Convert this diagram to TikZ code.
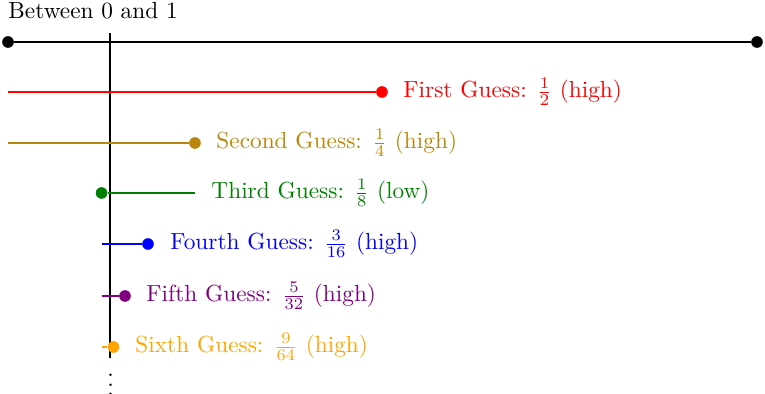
\documentclass[tikz,border=0pt]{standalone}
\definecolor{guessgold}{RGB}{184,134,11}
\definecolor{guessgreen}{RGB}{0,128,0}
\definecolor{guesspurple}{RGB}{128,0,128}
\definecolor{guessorange}{RGB}{255,165,0}
\tikzset{
  dotmark/.style={circle, fill, inner sep=0pt, minimum size=5pt},
  guess/.style={anchor=west, inner sep=0pt},
  seg/.style={line width=0.9pt}
}
\begin{document}
\begin{tikzpicture}[x=0.429pt,y=-0.429pt]
\useasboundingbox (0,0) rectangle (765,394);
\node[anchor=base west, inner sep=0pt] (title) at (8,19) {Between 0 and 1};
% axis
\coordinate (axtop) at (110,33);
\coordinate (axbot) at (110,358);
\draw[seg] (axtop) -- (axbot);
\node[inner sep=0pt] (more) at (110.5,378) {$\vdots$};
% unit interval
\node[dotmark] (zero) at (8,42) {};
\node[dotmark] (one) at (757,42) {};
\draw[seg] (zero) -- (one);
% first guess
\coordinate (s1) at (8,92);
\node[dotmark,red] (g1) at (382,92) {};
\draw[seg,red] (s1) -- (g1);
\node[guess,red] (l1) at (403,92) {First Guess: $\frac{1}{2}$ (high)};
% second guess
\coordinate (s2) at (8,143);
\node[dotmark,guessgold] (g2) at (195,143) {};
\draw[seg,guessgold] (s2) -- (g2);
\node[guess,guessgold] (l2) at (216,143) {Second Guess: $\frac{1}{4}$ (high)};
% third guess
\node[dotmark,guessgreen] (g3) at (101.6,193) {};
\coordinate (e3) at (195,193);
\draw[seg,guessgreen] (g3) -- (e3);
\node[guess,guessgreen] (l3) at (211,193) {Third Guess: $\frac{1}{8}$ (low)};
% fourth guess
\coordinate (s4) at (101.6,244);
\node[dotmark,blue] (g4) at (148,244) {};
\draw[seg,blue] (s4) -- (g4);
\node[guess,blue] (l4) at (170,244) {Fourth Guess: $\frac{3}{16}$ (high)};
% fifth guess
\coordinate (s5) at (101.6,296);
\node[dotmark,guesspurple] (g5) at (125,296) {};
\draw[seg,guesspurple] (s5) -- (g5);
\node[guess,guesspurple] (l5) at (146,296) {Fifth Guess: $\frac{5}{32}$ (high)};
% sixth guess
\coordinate (s6) at (101.6,347);
\node[dotmark,guessorange] (g6) at (113.5,347) {};
\draw[seg,guessorange] (s6) -- (g6);
\node[guess,guessorange] (l6) at (135,347) {Sixth Guess: $\frac{9}{64}$ (high)};
\end{tikzpicture}
\end{document}
